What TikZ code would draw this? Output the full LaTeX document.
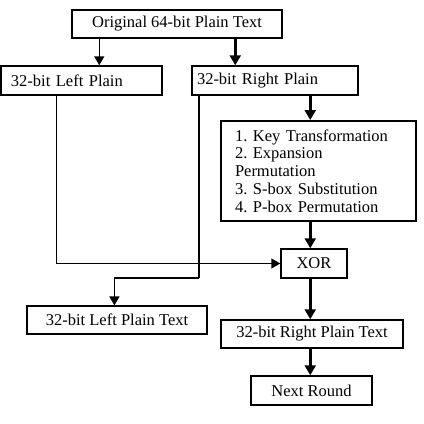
\documentclass[tikz,border=0pt]{standalone}
\usepackage{fontspec}
\setmainfont{Liberation Serif}
\usetikzlibrary{arrows.meta,calc}
\begin{document}
\frenchspacing
\begin{tikzpicture}[x=1pt,y=-1pt,
  box/.style={draw,line width=1.5pt,inner sep=0pt,font=\fontsize{16.5}{17.75}\selectfont},
  thinarrow/.style={line width=1.5pt,-{Triangle[width=10pt,length=9pt]}},
  midline/.style={line width=2pt},
  thickarrow/.style={line width=3pt,-{Triangle[width=11pt,length=10pt]}}]
\useasboundingbox (0,0) rectangle (424,424);
\node[box,minimum width=210pt,minimum height=28pt] (top) at (177,24) {Original 64-bit Plain Text};
\node[box,minimum width=161pt,minimum height=29pt,text width=141pt,align=left] (lbox) at (81.5,80.5) {32-bit Left Plain};
\node[box,minimum width=166pt,minimum height=29pt,text width=156pt,align=left] (rbox) at (275,80.5) {32-bit Right Plain};
\node[box,minimum width=195pt,minimum height=100pt,text width=167pt,align=left,line width=2pt] (proc) at (318.5,171) {1. Key Transformation\\2. Expansion\\Permutation\\3. S-box Substitution\\4. P-box Permutation};
\node[box,minimum width=66pt,minimum height=29pt] (xor) at (314,263.5) {XOR};
\node[box,minimum width=180pt,minimum height=28pt,line width=1.2pt] (lpt) at (117,320) {32-bit Left Plain Text};
\node[box,minimum width=182pt,minimum height=28pt] (rpt) at (312,334) {32-bit Right Plain Text};
\node[box,minimum width=121pt,minimum height=29pt] (nr) at (311.5,390.5) {Next Round};
% arrows from top
\draw[thinarrow] ($(top.south west)+(28,0)$) coordinate (t1) -- (t1 |- lbox.north);
\draw[thickarrow] ($(top.south west)+(164,0)$) coordinate (t2) -- (t2 |- rbox.north);
% right column
\draw[thickarrow] ($(rbox.south west)+(119,0)$) coordinate (r1) -- (r1 |- proc.north);
\draw[thickarrow] (r1 |- proc.south) -- (r1 |- xor.north);
\draw[thickarrow] (r1 |- xor.south) -- (r1 |- rpt.north);
\draw[thickarrow] (r1 |- rpt.south) -- (r1 |- nr.north);
% left to XOR
\draw[thinarrow] ($(lbox.south west)+(56,0)$) |- (xor.west);
% right plain down to left plain text
\draw[midline] ($(rbox.south west)+(8,0)$) -- ++(0,182) coordinate (c1);
\draw[thinarrow] (c1) -| ($(lpt.north west)+(88,0)$);
\end{tikzpicture}
\end{document}
